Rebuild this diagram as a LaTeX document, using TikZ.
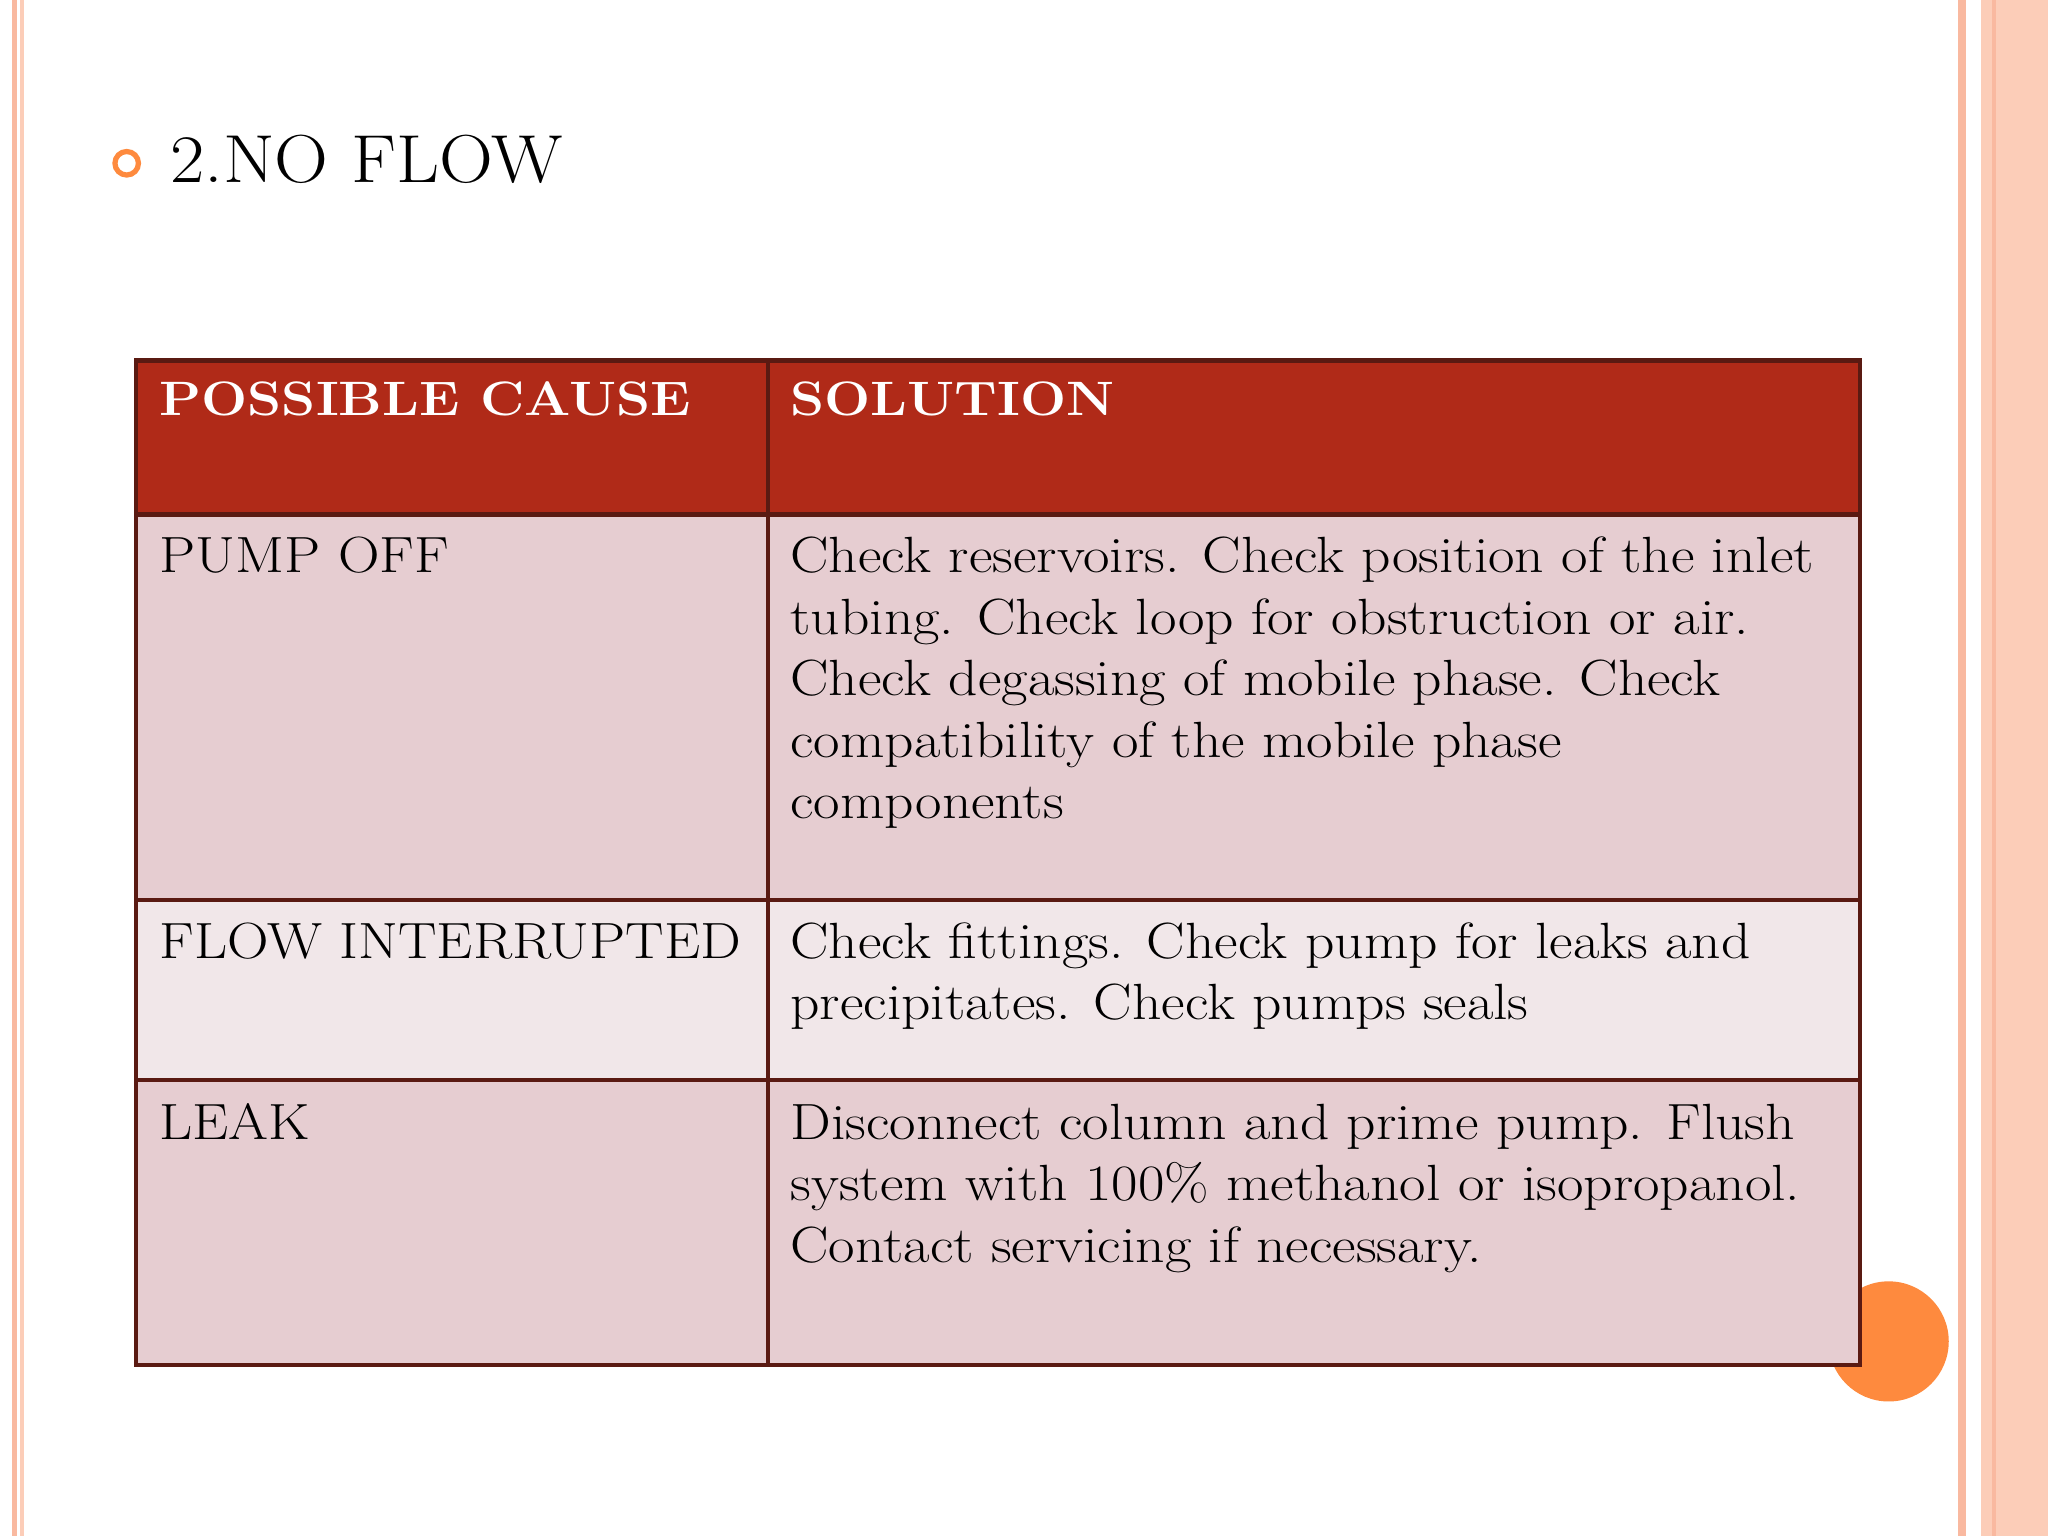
\documentclass[tikz,border=0pt]{standalone}
\newcommand{\wsc}[1]{\scalebox{1.13}[1]{#1}}
\begin{document}
\begin{tikzpicture}[x=1pt,y=-1pt,
  cell/.style={anchor=north west,align=left,inner sep=0pt,font=\fontsize{39}{47}\selectfont},
  hcell/.style={cell,text=white,font=\fontsize{37}{47}\selectfont\bfseries}]
\useasboundingbox (0,0) rectangle (1568,1176);
\fill[white] (0,0) rectangle (1568,1176);
\definecolor{salm}{HTML}{F9B9A0}
\definecolor{salml}{HTML}{FCCDB8}
\definecolor{orng}{HTML}{FE8A3E}
% left border
\fill[salm] (9,0) rectangle (13,1176);
\fill[salml] (15,0) rectangle (18,1176);
% right stripes
\fill[salm] (1499,0) rectangle (1505,1176);
\fill[salml] (1517,0) rectangle (1568,1176);
\fill[salm] (1525,0) rectangle (1528,1176);
% orange circle
\fill[orng] (1446,1027) circle (46);
% title
\draw[orng,line width=4] (97,125) circle (9);
\node[anchor=base west,inner sep=0pt,font=\fontsize{52}{60}\selectfont] (title) at (130,140) {\scalebox{1.1}[1]{2.NO FLOW}};
% table
\definecolor{hdr}{HTML}{B02A18}
\definecolor{rowa}{HTML}{E6CDD1}
\definecolor{rowb}{HTML}{F1E7E9}
\definecolor{bord}{HTML}{5A1A12}
\fill[hdr] (104,276) rectangle (1424,394);
\fill[rowa] (104,394) rectangle (1424,689);
\fill[rowb] (104,689) rectangle (1424,827);
\fill[rowa] (104,827) rectangle (1424,1045);
\draw[bord,line width=3.5] (104,276) rectangle (1424,1045);
\draw[bord,line width=3.5] (104,394) -- (1424,394) (104,689) -- (1424,689) (104,827) -- (1424,827) (588,276) -- (588,1045);
\node[hcell] (h1) at (122,292) {\wsc{POSSIBLE CAUSE}};
\node[hcell] (h2) at (605,292) {\wsc{SOLUTION}};
\node[cell] (c1) at (122,411) {\wsc{PUMP OFF}};
\node[cell] (s1) at (605,411) {\wsc{Check reservoirs. Check position of the inlet}\\\wsc{tubing. Check loop for obstruction or air.}\\\wsc{Check degassing of mobile phase. Check}\\\wsc{compatibility of the mobile phase}\\\wsc{components}};
\node[cell] (c2) at (122,706) {\wsc{FLOW INTERRUPTED}};
\node[cell] (s2) at (605,706) {\wsc{Check fittings. Check pump for leaks and}\\\wsc{precipitates. Check pumps seals}};
\node[cell] (c3) at (122,845) {\wsc{LEAK}};
\node[cell] (s3) at (605,845) {\wsc{Disconnect column and prime pump. Flush}\\\wsc{system with 100\% methanol or isopropanol.}\\\wsc{Contact servicing if necessary.}};
\end{tikzpicture}
\end{document}
